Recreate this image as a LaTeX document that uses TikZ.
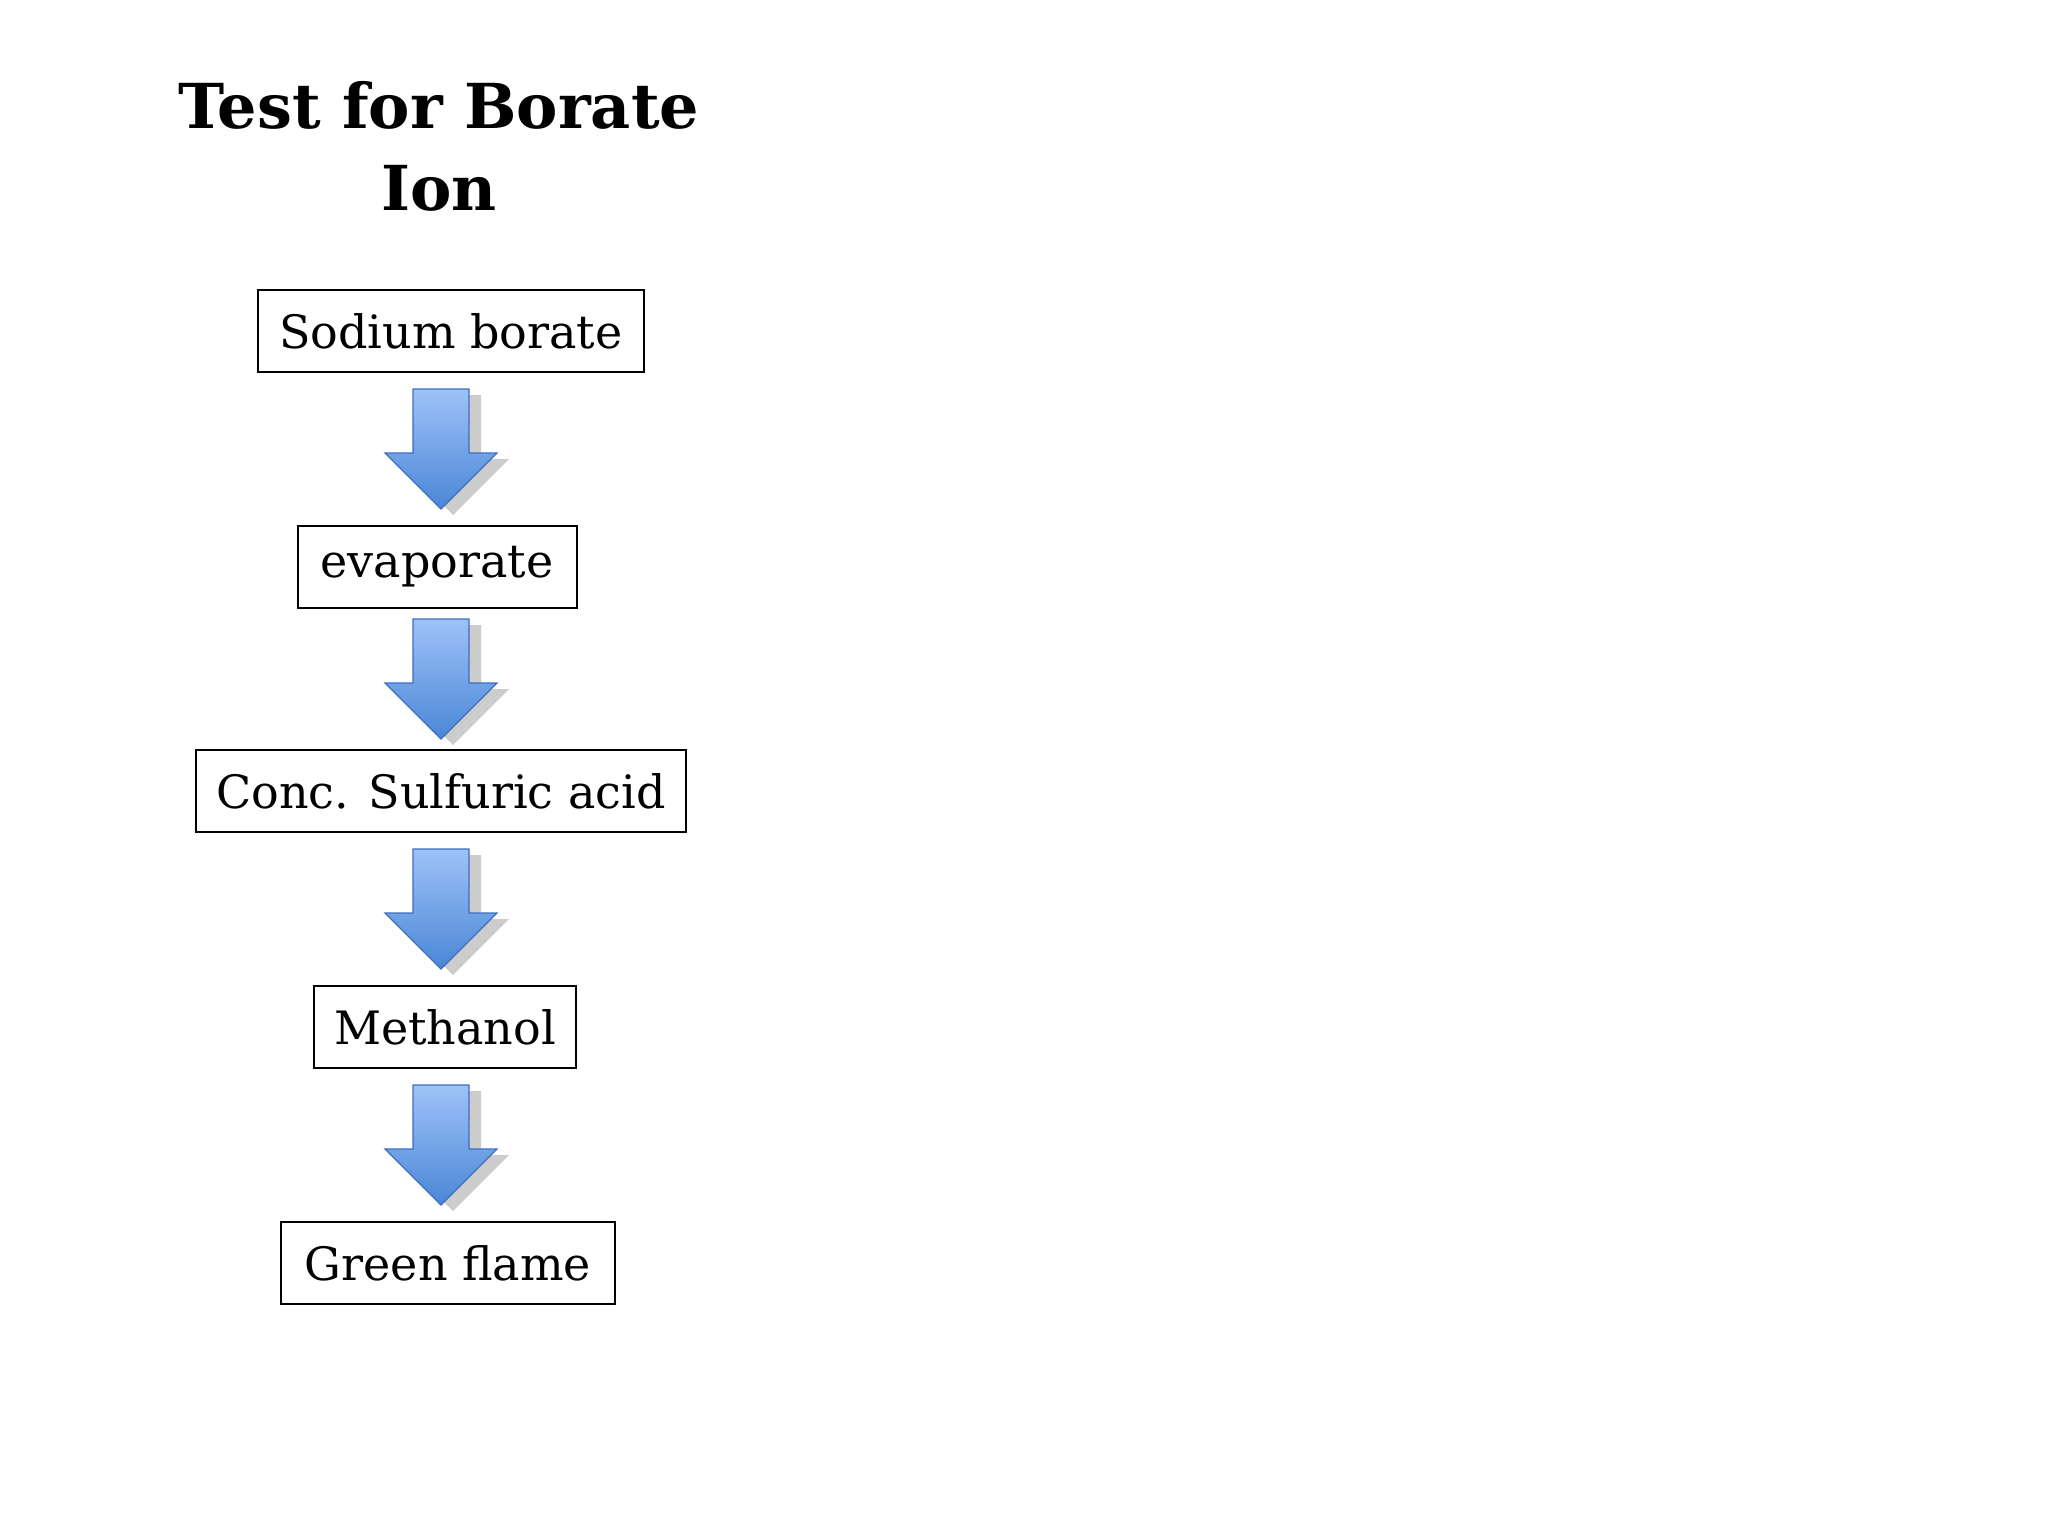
\documentclass[tikz,border=0pt]{standalone}
\usepackage{fontspec}
\setmainfont{DejaVu Serif}
\usetikzlibrary{positioning,calc}

\definecolor{arrowtop}{RGB}{158,194,248}
\definecolor{arrowbot}{RGB}{74,134,214}
\definecolor{arrowline}{RGB}{62,110,190}

\tikzset{
  stepbox/.style={draw, line width=1pt, minimum height=41pt, inner xsep=10pt,
    font=\fontsize{23}{27}\selectfont},
  flowarrow/.pic={
    \fill[black!20, shift={(12,6)}] (-28,-60) -- (28,-60) -- (28,4) -- (56,4)
      -- (0,60) -- (-56,4) -- (-28,4) -- cycle;
    \draw[arrowline, line width=0.6pt, top color=arrowtop, bottom color=arrowbot]
      (-28,-60) -- (28,-60) -- (28,4) -- (56,4)
      -- (0,60) -- (-56,4) -- (-28,4) -- cycle;
  }
}

\begin{document}
\begin{tikzpicture}[x=0.5pt, y=-0.5pt, node distance=76pt]
  \useasboundingbox (0,0) rectangle (2048,1536);

  \node[align=center, inner sep=0pt, font=\fontsize{31}{41}\selectfont\bfseries]
    (title) at (439,146) {Test for Borate\\Ion};

  \node[stepbox, minimum width=193pt]   (sodium) at (451,331) {Sodium borate};
  \node[stepbox, minimum width=139.5pt] (evap)  [below=of sodium, xshift=-7pt] {evaporate};
  \node[stepbox, minimum width=242.5pt] (conc)  [below=70pt of evap, xshift=2pt] {Conc. Sulfuric acid};
  \node[stepbox, minimum width=130.5pt] (meth)  [below=of conc, xshift=2pt] {Methanol};
  \node[stepbox, minimum width=167pt]   (green) [below=of meth, xshift=1.5pt] {Green flame};

  % block arrows between the steps, all on one vertical line
  \coordinate (axis) at (441,0);
  \foreach \a/\b in {sodium/evap, evap/conc, conc/meth, meth/green}{
    \coordinate (mid) at ($(\a.south)!.5!(\b.north)$);
    \pic at (axis |- mid) {flowarrow};
  }
\end{tikzpicture}
\end{document}
